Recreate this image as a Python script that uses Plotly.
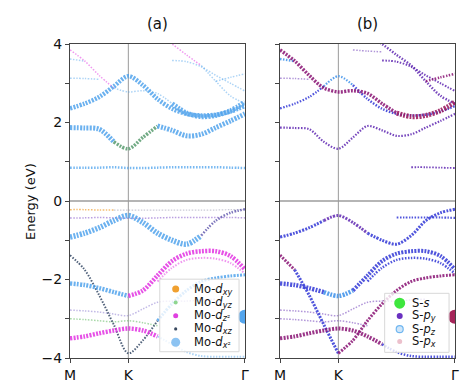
import plotly.graph_objects as go

# ---------------- data ----------------
K_GRID = [0.0, 0.25, 0.5, 0.75, 1.0, 1.25, 1.5, 1.75, 2.0, 2.25, 2.5, 2.75, 3.0]
K_TICKS = [0.0, 1.0, 3.0]
K_LABELS = ['M', 'K', 'Γ']
E_TICKS = [-4, -3, -2, -1, 0, 1, 2, 3, 4]
E_LABELS = ['−4', '', '−2', '', '0', '', '2', '', '4']

# conduction bands (eV)
FLAT = [0.85, 0.85, 0.85, 0.86, 0.84, 0.84, 0.85, 0.86, 0.86, 0.86, 0.86, 0.85, 0.84]
C1 = [1.87, 1.86, 1.83, 1.51, 1.33, 1.62, 1.91, 1.80, 1.66, 1.70, 1.87, 2.04, 2.22]
C2 = [2.36, 2.48, 2.65, 2.92, 3.18, 2.95, 2.60, 2.35, 2.22, 2.18, 2.20, 2.28, 2.42]
C3 = [3.85, 3.57, 3.20, 2.88, 2.78, 2.81, 2.74, 2.48, 2.24, 2.15, 2.18, 2.30, 2.52]
C4 = [3.13, 3.12, 3.10, None, None, None, None, None, None, None, None, None, None]
C5 = [None, None, None, None, None, None, 4.25, 4.00, 3.72, 3.45, 3.05, 2.68, 2.48]
C6 = [None, None, None, None, None, None, None, 3.58, 3.55, 3.42, 3.20, 3.00, 2.80]
C7 = [None, None, None, None, None, 3.85, 3.82, 3.80, None, None, None, None, None]
C8 = [None, None, None, None, None, None, None, None, None, None, 3.05, 3.15, 3.24]
C9 = [3.62, 3.56, None, None, None, None, None, None, None, None, None, None, None]
# valence bands (eV)
V1 = [-0.92, -0.82, -0.68, -0.50, -0.37, -0.55, -0.82, -1.00, -1.10, -0.88, -0.50, -0.30, -0.21]
V2 = [-0.43, -0.43, -0.42, -0.43, -0.44, -0.44, -0.43, -0.42, -0.42, -0.42, -0.42, -0.42, -0.43]
V2B = [-0.22, -0.22, -0.23, -0.23, -0.23, -0.23, -0.23, -0.23, -0.23, -0.23, -0.23, -0.22, -0.22]
V3 = [-2.10, -2.14, -2.22, -2.32, -2.42, -2.28, -1.90, -1.53, -1.34, -1.28, -1.28, -1.40, -1.74]
V3B = [None, None, None, None, None, None, -2.05, -1.70, -1.50, -1.45, -1.47, -1.58, -1.85]
V4 = [-1.38, -1.75, -2.40, -3.15, -3.88, -3.55, -3.05, -2.62, -2.28, -2.05, -1.96, -1.91, -1.88]
V5 = [-3.50, -3.45, -3.37, -3.30, -3.25, -3.30, -3.45, -3.65, -3.85, -3.95, -3.97, -3.97, -3.97]
V8 = [-2.78, -2.80, -2.83, -2.88, -2.92, -2.75, -2.58, -2.55, -2.55, -2.52, -2.50, None, None]
V9 = [-3.00, -3.02, -3.05, -3.08, -3.05, -3.10, -3.18, None, None, None, None, None, None]
GAMMA_STATE_K = [3.0]
GAMMA_STATE_E = [-2.95]

LEGEND_A = ['Mo-<i>d</i><sub><i>xy</i></sub>', 'Mo-<i>d</i><sub><i>yz</i></sub>',
            'Mo-<i>d</i><sub><i>z</i>²</sub>', 'Mo-<i>d</i><sub><i>xz</i></sub>',
            'Mo-<i>d</i><sub><i>x</i>²</sub>']
LEGEND_B = ['S-<i>s</i>', 'S-<i>p</i><sub><i>y</i></sub>', 'S-<i>p</i><sub><i>z</i></sub>',
            'S-<i>p</i><sub><i>x</i></sub>']

BANDS = {'FLAT': FLAT, 'C1': C1, 'C2': C2, 'C3': C3, 'C4': C4, 'C5': C5, 'C6': C6,
         'C7': C7, 'C8': C8, 'C9': C9, 'V1': V1, 'V2': V2, 'V2B': V2B, 'V3': V3,
         'V3B': V3B, 'V4': V4, 'V5': V5, 'V8': V8, 'V9': V9}

# ---------------- styles ----------------
DX2 = 'rgba(74,160,236,0.82)'
DX2F = 'rgba(74,160,236,0.45)'
DZ2 = 'rgba(226,50,226,0.85)'
DZ2F = 'rgba(226,50,226,0.5)'
DXZ = 'rgba(50,70,100,0.85)'
DYZ = 'rgba(110,190,110,0.6)'
DXY = 'rgba(240,160,50,0.7)'
KVAL = 'rgba(105,165,125,0.95)'

STYLE_A = [
    ('V8', 0, 10, 'rgba(120,100,200,0.45)', 1.5),
    ('V9', 0, 6, DYZ, 1.5),
    ('C4', 0, 2, DX2F, 1.5),
    ('C9', 0, 1, DX2F, 1.5),
    ('C5', 6, 9, DZ2F, 1.5), ('C5', 9, 12, DX2F, 1.5),
    ('C6', 7, 12, DX2F, 1.5),
    ('C8', 10, 12, DX2F, 1.5),
    ('C3', 0, 3, DZ2F, 1.5), ('C3', 3, 7, DX2F, 1.5), ('C3', 7, 12, DX2, 5),
    ('FLAT', 0, 12, 'rgba(74,160,236,0.75)', 2.5),
    ('C2', 0, 12, DX2, 4.5),
    ('C1', 0, 3, DX2, 5), ('C1', 3, 6, KVAL, 3.5), ('C1', 6, 12, DX2, 5),
    ('V2B', 0, 3, DXY, 1.5), ('V2B', 3, 12, 'rgba(120,120,150,0.4)', 1.2),
    ('V2', 0, 12, 'rgba(130,80,200,0.55)', 1.5),
    ('V1', 0, 9, DX2, 5.5), ('V1', 9, 12, 'rgba(90,80,170,0.8)', 2.5),
    ('V3B', 6, 12, DZ2F, 2),
    ('V4', 0, 6, DXZ, 2), ('V4', 6, 12, DX2, 3),
    ('V5', 0, 6, DZ2, 4.5), ('V5', 6, 12, DX2F, 2),
    ('V3', 0, 4, DX2, 4.5), ('V3', 4, 12, DZ2, 4.5),
]

BL = 'rgba(55,60,215,0.88)'
PU = 'rgba(100,45,180,0.88)'
PUF = 'rgba(100,45,180,0.5)'
MG = 'rgba(140,25,120,0.88)'
CR = 'rgba(155,25,95,0.88)'
LB = 'rgba(70,150,235,0.9)'

STYLE_B = [
    ('V8', 0, 10, PUF, 1.5),
    ('V9', 0, 6, PUF, 1.5),
    ('C4', 0, 2, PUF, 1.5),
    ('C7', 5, 7, PUF, 1.5),
    ('C9', 0, 1, LB, 2.5),
    ('FLAT', 9, 12, PU, 1.8),
    ('C5', 6, 12, PU, 2.5),
    ('C6', 7, 12, PU, 2),
    ('C8', 10, 12, MG, 2.5),
    ('C1', 0, 12, PU, 2.2),
    ('C2', 0, 3, BL, 2.2), ('C2', 3, 5, LB, 2.2), ('C2', 5, 12, BL, 2.5),
    ('C3', 0, 8, MG, 3.5), ('C3', 8, 12, CR, 5),
    ('V2', 8, 12, BL, 2.2),
    ('V1', 0, 3, BL, 3), ('V1', 3, 6, PU, 3), ('V1', 6, 12, BL, 3),
    ('V3B', 6, 12, BL, 2.5),
    ('V3', 0, 3, BL, 4.5), ('V3', 3, 5, LB, 4.5), ('V3', 5, 12, BL, 4),
    ('V4', 0, 1, MG, 3), ('V4', 1, 4, BL, 3), ('V4', 4, 12, MG, 3),
    ('V5', 0, 7, MG, 4), ('V5', 7, 12, BL, 2.5),
]

FONT = 'DejaVu Sans'
fig = go.Figure()


def add_bands(style, xa, ya):
    for name, i0, i1, color, width in style:
        e = BANDS[name]
        dash = '2px,1.3px' if width >= 3 else '1.5px,1.5px'
        fig.add_trace(go.Scatter(
            x=K_GRID[i0:i1 + 1], y=e[i0:i1 + 1], mode='lines',
            line=dict(color=color, width=width, dash=dash, shape='spline', smoothing=0.9),
            xaxis=xa, yaxis=ya, showlegend=False, hoverinfo='skip'))


add_bands(STYLE_A, 'x', 'y')
add_bands(STYLE_B, 'x2', 'y2')

fig.add_trace(go.Scatter(x=GAMMA_STATE_K, y=GAMMA_STATE_E, mode='markers',
                         marker=dict(size=14, color='rgba(74,160,236,0.95)'),
                         xaxis='x', yaxis='y', showlegend=False, cliponaxis=True))
fig.add_trace(go.Scatter(x=GAMMA_STATE_K, y=GAMMA_STATE_E, mode='markers',
                         marker=dict(size=14, color='rgba(160,25,80,0.95)'),
                         xaxis='x2', yaxis='y2', showlegend=False, cliponaxis=True))

shapes = []
annotations = []
for xs, ys in (('x', 'y'), ('x2', 'y2')):
    shapes.append(dict(type='line', xref=xs + ' domain', yref=ys, x0=0, x1=1, y0=0, y1=0,
                       line=dict(color='#b5b5b5', width=2), layer='below'))
    shapes.append(dict(type='line', xref=xs, yref=ys + ' domain', x0=K_TICKS[1], x1=K_TICKS[1],
                       y0=0, y1=1, line=dict(color='#9a9a9a', width=1), layer='below'))

# manual legends
LEG_A_MARK = [('#f0a030', 3.5, None), ('#8fd68f', 2, None), ('#e040e0', 2.5, None),
              ('#3a4a60', 1.6, None), ('rgba(120,185,240,0.85)', 4.5, None)]
LEG_A_Y = [0.2194, 0.1771, 0.1348, 0.0925, 0.0502]
LEG_B_MARK = [('#3ee63e', 5.5, None), ('#6a30c0', 3, None), ('#cfe6fa', 3.5, '#6fb6f0'),
              ('#ecc0cc', 2.5, None)]
LEG_B_Y = [0.1746, 0.1339, 0.0918, 0.0524]


def add_legend(xs, ys, box, mx, tx, rows, marks, texts):
    shapes.append(dict(type='rect', xref=xs + ' domain', yref=ys + ' domain',
                       x0=box[0], x1=box[1], y0=box[2], y1=box[3],
                       fillcolor='rgba(255,255,255,0.8)', line=dict(color='#d8d8d8', width=1),
                       layer='above'))
    for yv, (col, r, lc), t in zip(rows, marks, texts):
        shapes.append(dict(type='circle', xref=xs + ' domain', yref=ys + ' domain',
                           xsizemode='pixel', ysizemode='pixel', xanchor=mx, yanchor=yv,
                           x0=-r, x1=r, y0=-r, y1=r, fillcolor=col,
                           line=dict(color=lc if lc else col, width=1.2 if lc else 0),
                           layer='above'))
        annotations.append(dict(xref=xs + ' domain', yref=ys + ' domain', x=tx, y=yv,
                                xanchor='left', yanchor='middle', text=t, showarrow=False,
                                font=dict(family=FONT, size=11.5, color='#111')))


add_legend('x', 'y', (0.513, 0.966, 0.020, 0.251), 0.604, 0.700, LEG_A_Y, LEG_A_MARK, LEGEND_A)
add_legend('x2', 'y2', (0.598, 0.966, 0.018, 0.206), 0.684, 0.742, LEG_B_Y, LEG_B_MARK, LEGEND_B)

for xs, t in (('x', '(a)'), ('x2', '(b)')):
    annotations.append(dict(xref=xs + ' domain', yref='paper', x=0.5, y=1, yanchor='bottom',
                            yshift=9, text=t, showarrow=False,
                            font=dict(family=FONT, size=15, color='#111')))
annotations.append(dict(xref='paper', yref='y domain', x=-0.104, y=0.5, xanchor='center',
                        yanchor='middle', textangle=-90, text='Energy (eV)', showarrow=False,
                        font=dict(family=FONT, size=13, color='#111')))

axis_common = dict(showline=True, mirror=True, linecolor='#444', linewidth=1, showgrid=False,
                   zeroline=False, ticks='outside', tickcolor='#444', ticklen=4,
                   tickfont=dict(family=FONT, size=14, color='#111'))

fig.update_layout(
    width=474, height=387, margin=dict(l=62, r=27, t=36, b=32),
    paper_bgcolor='white', plot_bgcolor='white', showlegend=False,
    xaxis=dict(domain=[0, 0.4545], range=[K_GRID[0], K_GRID[-1]], tickvals=K_TICKS,
               ticktext=K_LABELS, anchor='y', **axis_common),
    xaxis2=dict(domain=[0.5455, 1], range=[K_GRID[0], K_GRID[-1]], tickvals=K_TICKS,
                ticktext=K_LABELS, anchor='y2', **axis_common),
    yaxis=dict(range=[-4, 4], tickvals=E_TICKS, ticktext=E_LABELS, anchor='x', **axis_common),
    yaxis2=dict(range=[-4, 4], tickvals=E_TICKS, ticktext=E_LABELS, showticklabels=False,
                anchor='x2', **axis_common),
    shapes=shapes, annotations=annotations,
)

fig.write_html('out.html')
